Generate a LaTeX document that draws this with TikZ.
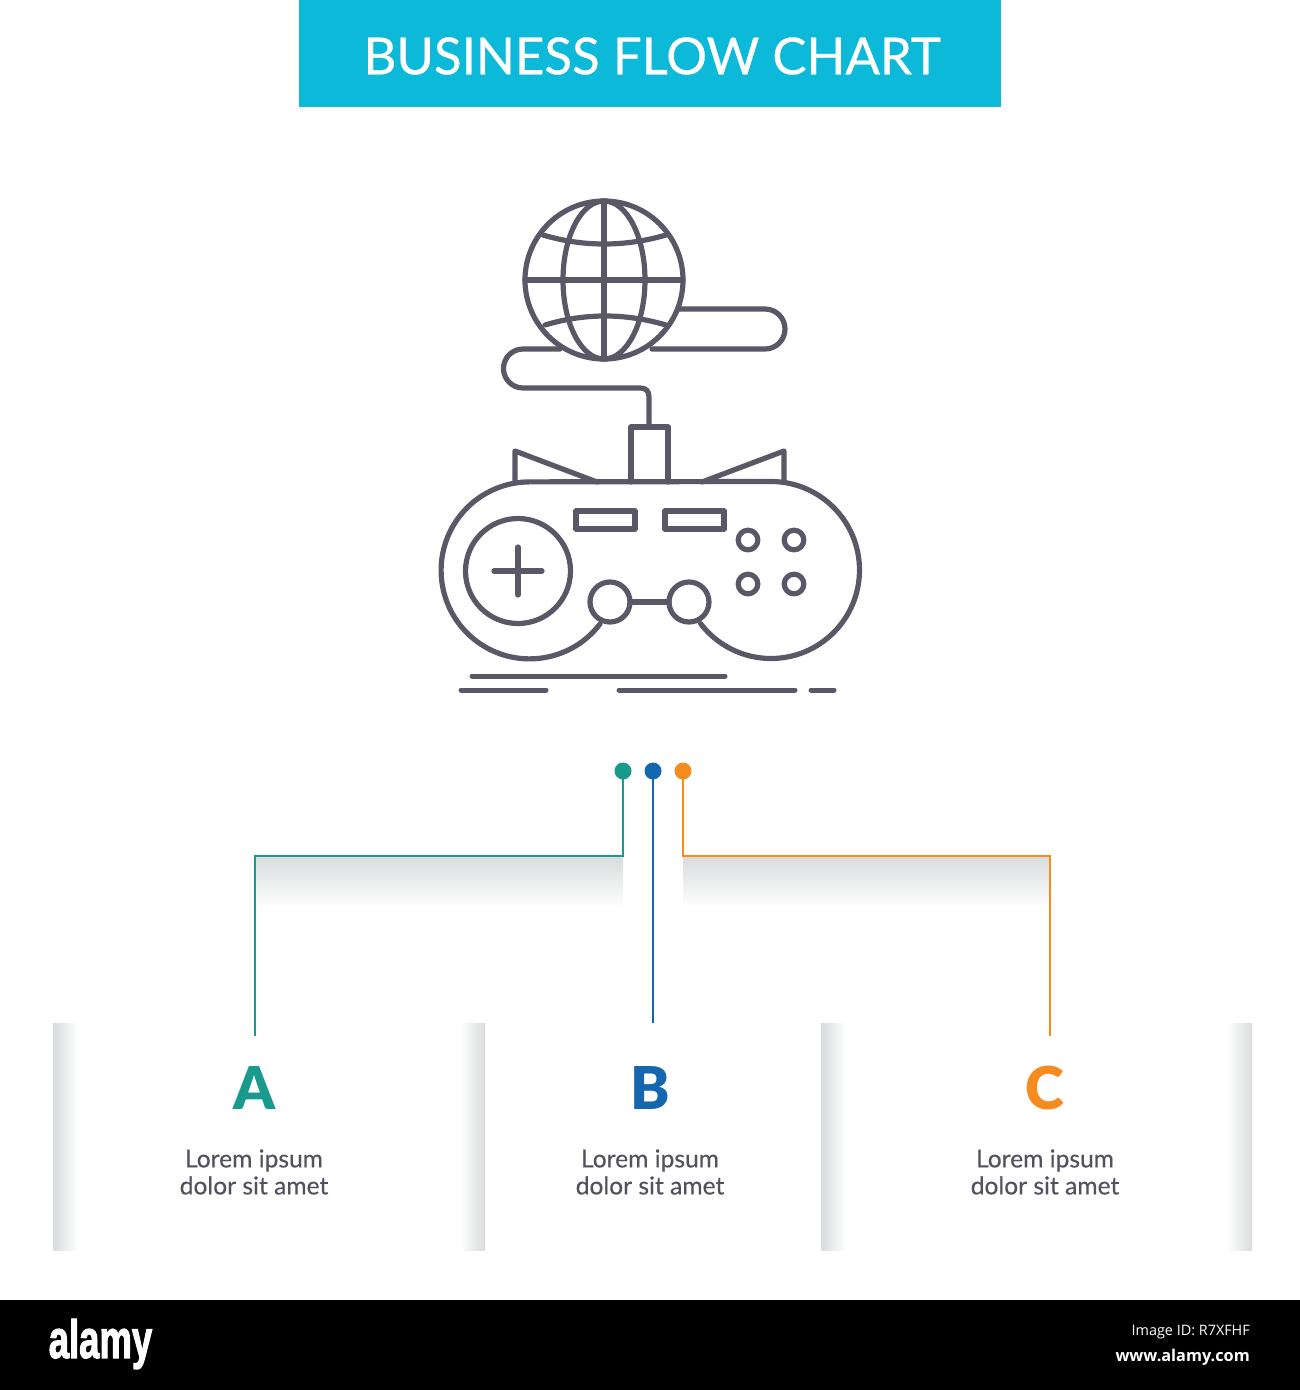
\documentclass[tikz,border=0pt]{standalone}
\usepackage{fontspec}
\setmainfont{Lato}
\newfontfamily\logofont[FakeBold=2.5]{Liberation Sans Bold}
\newfontfamily\heavyfont{Lato Black}
\newfontfamily\footfont{Open Sans}
\newfontfamily\titlefont[FakeBold=0.5]{Lato}
\newfontfamily\bodyfont[FakeBold=0.25]{Lato}
\definecolor{ink}{HTML}{5A5766}
\definecolor{txt}{HTML}{53515E}
\definecolor{teal1}{HTML}{1A9A8C}
\definecolor{blue1}{HTML}{1467AF}
\definecolor{orange1}{HTML}{F68B1F}
\definecolor{head}{HTML}{0DB9D8}
\definecolor{shadeg}{HTML}{D9DBDC}
\tikzset{
  icon/.style={draw=ink,line width=5.2pt,line join=round,line cap=round},
  ground/.style={draw=ink,line width=5pt,line cap=round},
  dotnode/.style={circle,minimum size=17pt,inner sep=0pt},
  wire/.style={line width=1.8pt},
  letter/.style={font=\heavyfont\fontsize{59}{59}\selectfont},
  body/.style={text=txt,align=center,font=\bodyfont\fontsize{24.6}{27}\selectfont},
  foot/.style={text=white,anchor=east,inner sep=0pt},
}
\begin{document}
\begin{tikzpicture}[x=1pt,y=1pt,yscale=-1]
\useasboundingbox (0,0) rectangle (1300,1390);
\fill[white] (0,0) rectangle (1300,1390);
% header
\fill[head] (299,0) rectangle (1001,106.5);
\node[text=white,font=\titlefont\fontsize{51}{51}\selectfont] (title) at (652,56) {BUSINESS FLOW CHART};
% footer
\fill[black] (0,1300) rectangle (1300,1390);
\node[text=white,inner sep=0pt,font=\logofont\fontsize{48}{48}\selectfont] (logo) at (100.5,1344) {\scalebox{0.76}[1.12]{alamy}};
\node[foot,font=\footfont\fontsize{14.4}{14.4}\selectfont] (imgid) at (1250,1332) {Image ID: R7XFHF};
\node[foot,font=\footfont\bfseries\fontsize{16.3}{16.3}\selectfont] (www) at (1250,1357) {www.alamy.com};
% shaded bands
\shade[top color=shadeg,bottom color=white] (255,856) rectangle (623,908);
\shade[top color=shadeg,bottom color=white] (683,856) rectangle (1050,908);
\shade[left color=shadeg,right color=white] (53,1023) rectangle (78,1250);
\shade[left color=white,right color=shadeg] (460,1023) rectangle (485,1250);
\shade[left color=shadeg,right color=white] (821,1023) rectangle (846,1250);
\shade[left color=white,right color=shadeg] (1227,1023) rectangle (1252,1250);
% connectors
\node[dotnode,fill=teal1] (da) at (623,771) {};
\node[dotnode,fill=blue1] (db) at (653,771) {};
\node[dotnode,fill=orange1] (dc) at (683,771) {};
\coordinate (ea) at (255,1036);
\coordinate (eb) at (653,1023);
\coordinate (ec) at (1050,1036);
\draw[wire,teal1] (da.center) |- (ea |- 0,856) -- (ea);
\draw[wire,blue1] (db.center) -- (eb);
\draw[wire,orange1] (dc.center) |- (ec |- 0,856) -- (ec);
% labels
\node[letter,text=teal1] (la) at (254,1088) {A};
\node[letter,text=blue1] (lb) at (650,1088) {B};
\node[letter,text=orange1] (lc) at (1045,1088) {C};
\node[body] (ta) at (254,1172) {Lorem ipsum\\dolor sit amet};
\node[body] (tb) at (650,1172) {Lorem ipsum\\dolor sit amet};
\node[body] (tc) at (1045,1172) {Lorem ipsum\\dolor sit amet};
% globe
\draw[icon] (604,280) circle[radius=79];
\draw[icon] (604,280) ellipse[x radius=41,y radius=79];
\draw[icon] (604,201) -- (604,359);
\draw[icon] (525,280) -- (683,280);
\draw[icon] (543,235) .. controls (583,247) and (625,247) .. (666,235);
\draw[icon] (545,325) .. controls (585,313) and (625,313) .. (666,325);
% cable
\draw[icon] (678,309) -- (765,309) arc[start angle=270,end angle=450,radius=20] -- (652,349);
\draw[icon] (560,349) -- (523,349) arc[start angle=270,end angle=90,radius=19.5] -- (640,388) .. controls (646,388) and (649,391) .. (649,397) -- (649,427);
% controller
\draw[icon] (631,482) -- (631,427) -- (668,427) -- (668,482);
\draw[icon] (515,482) -- (515,451) -- (597,482);
\draw[icon] (784,482) -- (784,451) -- (702,482);
\draw[icon] (600,624) arc[start angle=37.3,end angle=270,radius=88.5] -- (771,481.5) arc[start angle=270,end angle=502.7,radius=88.5];
\draw[icon] (518,571) circle[radius=52.5];
\draw[icon] (494,571) -- (542,571) (518,547) -- (518,595);
\draw[icon] (576,511) rectangle (635,529);
\draw[icon] (665,511) rectangle (724,529);
\foreach \cx/\cy in {748/540,794/540,748/584,794/584}
  \draw[icon] (\cx,\cy) circle[radius=9.8];
\draw[icon] (610,602) circle[radius=20];
\draw[icon] (689,602) circle[radius=20];
\draw[icon] (630,602) -- (669,602);
% ground lines
\draw[ground] (472,676) -- (725,676);
\draw[ground] (461,690) -- (546,690);
\draw[ground] (619,690) -- (795,690);
\draw[ground] (811,690) -- (834,690);
\end{tikzpicture}
\end{document}
